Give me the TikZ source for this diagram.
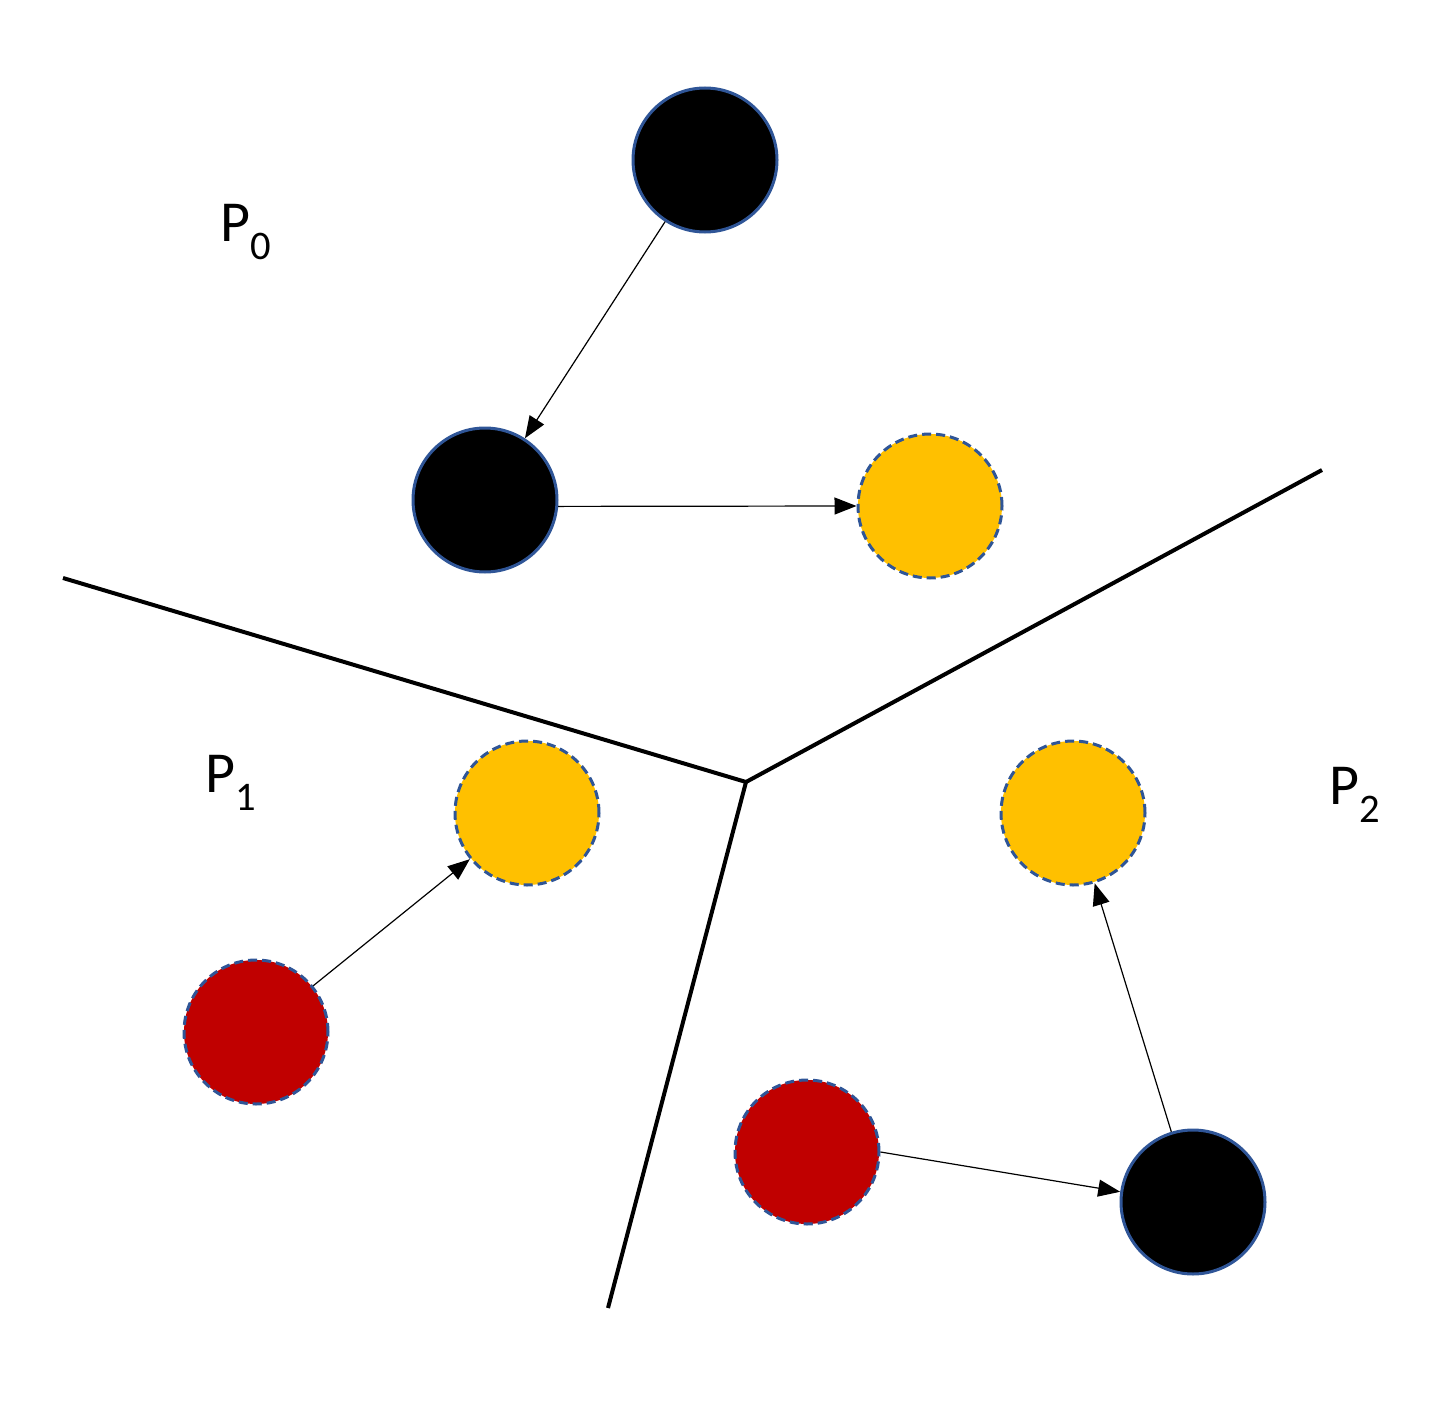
\documentclass[tikz,border=0pt]{standalone}
\usepackage{fontspec}
\setmainfont{Carlito}
\usetikzlibrary{arrows.meta}
\definecolor{edge}{HTML}{2F5597}
\definecolor{gold}{HTML}{FFC000}
\definecolor{dred}{HTML}{C00000}
\tikzset{
  ball/.style={circle,minimum size=144pt,inner sep=0pt,draw=edge,line width=3pt},
  solidball/.style={ball,fill=black},
  dashball/.style={ball,dash pattern=on 9pt off 5pt},
  link/.style={line width=1.2pt,-{Triangle[length=22pt,width=17pt]}},
  border/.style={line width=4pt},
  lab/.style={font=\fontsize{58}{60}\selectfont}
}
\begin{document}
\begin{tikzpicture}[x=1pt,y=-1pt]
\useasboundingbox (0,0) rectangle (1452,1410);
\fill[white] (0,0) rectangle (1452,1410);
\coordinate (J) at (746,782);
\coordinate (L1) at (63,578);
\coordinate (L2) at (1322,470);
\coordinate (L3) at (608,1308);
\draw[border] (L1) -- (J) -- (L2);
\draw[border] (J) -- (L3);
\node[solidball] (A) at (705,160) {};
\node[solidball] (B) at (485,500) {};
\node[dashball,fill=gold] (C) at (930,506) {};
\node[dashball,fill=gold] (D) at (527,813) {};
\node[dashball,fill=dred] (E) at (256,1032) {};
\node[dashball,fill=gold] (F) at (1073,813) {};
\node[dashball,fill=dred] (G) at (807,1152) {};
\node[solidball] (H) at (1193,1202) {};
\draw[link] (A) -- (B);
\draw[link] (B.-5) -- (C.west);
\draw[link] (E) -- (D);
\draw[link] (G.east) -- (H.172);
\draw[link] (H) -- (F);
\node[lab] (p0) at (246,232) {P$_{\mathrm{0}}$};
\node[lab] (p1) at (231,783) {P$_{\mathrm{1}}$};
\node[lab] (p2) at (1355,795) {P$_{\mathrm{2}}$};
\end{tikzpicture}
\end{document}
